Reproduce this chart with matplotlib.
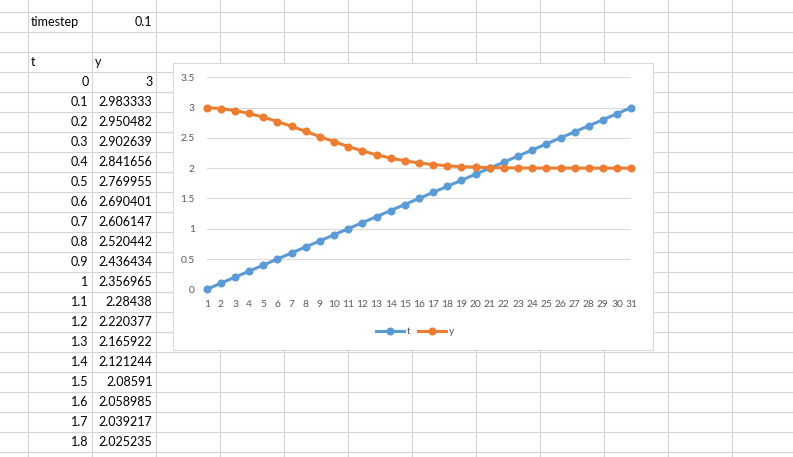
import matplotlib
matplotlib.use('Agg')
import matplotlib.pyplot as plt
from matplotlib.patches import Rectangle

# ---- data ----
timestep_label = "timestep"
timestep = "0.1"
col_headers = ["t", "y"]
t_vals = [0.0, 0.1, 0.2, 0.3, 0.4, 0.5, 0.6, 0.7, 0.8, 0.9, 1.0,
          1.1, 1.2, 1.3, 1.4, 1.5, 1.6, 1.7, 1.8, 1.9, 2.0,
          2.1, 2.2, 2.3, 2.4, 2.5, 2.6, 2.7, 2.8, 2.9, 3.0]
y_vals = [3.0, 2.983333, 2.950482, 2.902639, 2.841656, 2.769955, 2.690401,
          2.606147, 2.520442, 2.436434, 2.356965, 2.28438, 2.220377,
          2.165922, 2.121244, 2.08591, 2.058985, 2.039217, 2.025235,
          2.0155, 2.0095, 2.0057, 2.0034, 2.002, 2.0012, 2.0007, 2.0004,
          2.0002, 2.0001, 2.0001, 2.0]
t_text = ["0", "0.1", "0.2", "0.3", "0.4", "0.5", "0.6", "0.7", "0.8", "0.9",
          "1", "1.1", "1.2", "1.3", "1.4", "1.5", "1.6", "1.7", "1.8"]
y_text = ["3", "2.983333", "2.950482", "2.902639", "2.841656", "2.769955",
          "2.690401", "2.606147", "2.520442", "2.436434", "2.356965",
          "2.28438", "2.220377", "2.165922", "2.121244", "2.08591",
          "2.058985", "2.039217", "2.025235"]
categories = [str(i) for i in range(1, 32)]
y_ticks = [0, 0.5, 1, 1.5, 2, 2.5, 3, 3.5]
y_tick_labels = ["0", "0.5", "1", "1.5", "2", "2.5", "3", "3.5"]

# ---- layout ----
W, H = 793, 457
FONT = "Lato"
fig = plt.figure(figsize=(W / 100, H / 100), dpi=100)
bg = fig.add_axes([0, 0, 1, 1])
bg.set_xlim(0, W)
bg.set_ylim(H, 0)
bg.axis('off')

grid_c = '#d4d4d4'
row0, rowh = 11.5, 20
col0, colw = 27.5, 64
for k in range(23):
    bg.axhline(row0 + rowh * k, color=grid_c, lw=0.8, zorder=1)
for k in range(13):
    bg.axvline(col0 + colw * k, color=grid_c, lw=0.8, zorder=1)

fs = 9.0
def cell_y(r):
    return row0 + rowh * r + rowh / 2 + 1

bg.text(col0 + 3, cell_y(0), timestep_label, fontsize=fs, family=FONT, va='center', ha='left')
bg.text(col0 + 2 * colw - 3, cell_y(0), timestep, fontsize=fs, family=FONT, va='center', ha='right')
bg.text(col0 + 3, cell_y(2), col_headers[0], fontsize=fs, family=FONT, va='center', ha='left')
bg.text(col0 + colw + 3, cell_y(2), col_headers[1], fontsize=fs, family=FONT, va='center', ha='left')
for i, (ts, ys) in enumerate(zip(t_text, y_text)):
    bg.text(col0 + colw - 3, cell_y(3 + i), ts, fontsize=fs, family=FONT, va='center', ha='right')
    bg.text(col0 + 2 * colw - 3, cell_y(3 + i), ys, fontsize=fs, family=FONT, va='center', ha='right')

# chart area
bg.add_patch(Rectangle((172.5, 62.5), 480, 287.5, facecolor='white',
                       edgecolor='#d9d9d9', lw=0.8, zorder=5))

L, R, T, B = 206.7, 631.3, 77.3, 289.3
ax = fig.add_axes([L / W, 1 - B / H, (R - L) / W, (B - T) / H], zorder=6)
ax.set_facecolor('none')
x = list(range(1, len(categories) + 1))
blue, orange = '#5b9bd5', '#ed7d31'
ax.plot(x, t_vals, color=blue, lw=2.2, marker='o', ms=4.8, clip_on=False, label='t', zorder=3)
ax.plot(x, y_vals, color=orange, lw=2.2, marker='o', ms=4.8, clip_on=False, label='y', zorder=3)
ax.set_xlim(1, len(categories))
ax.set_ylim(0, 3.5)
ax.set_yticks(y_ticks)
ax.set_yticklabels(y_tick_labels)
ax.set_xticks(x)
ax.set_xticklabels(categories)
ax.grid(axis='y', color='#d9d9d9', lw=0.8)
ax.set_axisbelow(True)
for s in ax.spines.values():
    s.set_visible(False)
tick_c = '#595959'
ax.tick_params(axis='x', length=0, pad=7.8, labelsize=7.4, labelcolor=tick_c)
ax.tick_params(axis='y', length=0, pad=8.5, labelsize=7.4, labelcolor=tick_c)
for lab in ax.get_xticklabels() + ax.get_yticklabels():
    lab.set_family(FONT)

leg = fig.legend(handles=ax.get_lines(), labels=['t', 'y'], loc='center',
                 bbox_to_anchor=(415 / W, 1 - 331.5 / H), ncol=2, frameon=False,
                 handlelength=2.7, handletextpad=0.3, columnspacing=0.7,
                 prop={'family': FONT, 'size': 7.4})
for txt in leg.get_texts():
    txt.set_color(tick_c)
leg.set_zorder(7)

fig.savefig('out.png', dpi=100)
